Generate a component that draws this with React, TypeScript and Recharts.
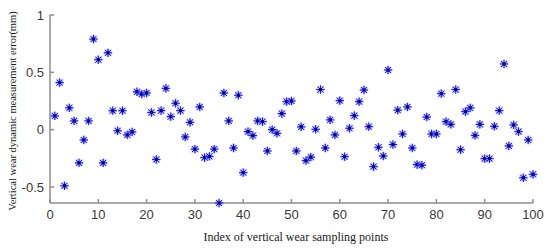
import { ScatterChart, Scatter, XAxis, YAxis } from 'recharts'

const sampleIndex = Array.from({ length: 100 }, (_, i) => i + 1)

const errorValues = [
  0.12, 0.41, -0.49, 0.19, 0.076, -0.29, -0.09, 0.076, 0.79, 0.61,
  -0.29, 0.67, 0.165, -0.01, 0.165, -0.046, -0.02, 0.33, 0.31, 0.32,
  0.15, -0.26, 0.166, 0.36, 0.113, 0.23, 0.166, -0.064, 0.064, -0.17,
  0.198, -0.244, -0.233, -0.17, -0.64, 0.32, 0.076, -0.16, 0.3, -0.375,
  -0.017, -0.052, 0.076, 0.07, -0.186, 0.0, -0.032, 0.14, 0.244, 0.25,
  -0.186, 0.024, -0.27, -0.24, 0.003, 0.35, -0.16, 0.085, -0.046, 0.253,
  -0.236, 0.012, 0.122, 0.244, 0.346, 0.026, -0.323, -0.154, -0.23, 0.52,
  -0.13, 0.17, -0.038, 0.198, -0.16, -0.305, -0.31, 0.11, -0.038, -0.038,
  0.314, 0.07, 0.046, 0.35, -0.175, 0.157, 0.19, -0.05, 0.046, -0.253,
  -0.253, 0.029, 0.166, 0.573, -0.142, 0.041, -0.017, -0.42, -0.09, -0.39,
]

const xTicks = [0, 10, 20, 30, 40, 50, 60, 70, 80, 90, 100]
const yTicks = [-0.5, 0, 0.5, 1]

const points = sampleIndex.map((idx, i) => ({ idx, err: errorValues[i] }))

const axisColor = '#8c8c8c'
const tickFont = { fontSize: 13, fill: '#3a3a3a', fontFamily: '"Liberation Sans", Arial, sans-serif' }
const serif = '"Liberation Serif", "Times New Roman", serif'

function Asterisk(props: any) {
  const { cx, cy } = props
  if (cx == null || cy == null) return null
  const r = 4.2
  const d = r * 0.72
  const path = `M${cx - r},${cy}L${cx + r},${cy}M${cx},${cy - r}L${cx},${cy + r}` +
    `M${cx - d},${cy - d}L${cx + d},${cy + d}M${cx - d},${cy + d}L${cx + d},${cy - d}`
  return (
    <g>
      <path d={path} stroke="#8c8cff" strokeWidth={2.2} strokeOpacity={0.55} fill="none" />
      <path d={path} stroke="#1010ff" strokeWidth={1} fill="none" />
      <rect x={cx - 1.5} y={cy - 1.5} width={3} height={3} fill="#000080" />
    </g>
  )
}

export default function App() {
  return (
    <div style={{ position: 'absolute', left: 0, top: 0, width: 550, height: 249, background: '#fff' }}>
      <ScatterChart width={550} height={249} margin={{ top: 15, right: 17, bottom: 0, left: 0 }}>
        <XAxis
          xAxisId="b"
          type="number"
          dataKey="idx"
          domain={[0, 100]}
          ticks={xTicks}
          height={46}
          stroke={axisColor}
          strokeWidth={1.5}
          tickSize={-4}
          tickMargin={11}
          tick={tickFont}
        />
        <XAxis
          xAxisId="t"
          orientation="top"
          type="number"
          dataKey="idx"
          domain={[0, 100]}
          ticks={xTicks}
          height={0}
          stroke={axisColor}
          strokeWidth={1.5}
          tickSize={-4}
          tick={false}
        />
        <YAxis
          yAxisId="l"
          type="number"
          dataKey="err"
          domain={[-0.64, 1]}
          ticks={yTicks}
          width={50}
          stroke={axisColor}
          strokeWidth={1.5}
          tickSize={-4}
          tickMargin={10}
          tick={tickFont}
        />
        <YAxis
          yAxisId="r"
          orientation="right"
          type="number"
          dataKey="err"
          domain={[-0.64, 1]}
          ticks={yTicks}
          width={0}
          stroke={axisColor}
          strokeWidth={1.5}
          tickSize={-4}
          tick={false}
        />
        <Scatter
          data={points}
          xAxisId="b"
          yAxisId="l"
          shape={<Asterisk />}
          isAnimationActive={false}
        />
        <text
          x={296}
          y={238}
          textAnchor="middle"
          dominantBaseline="middle"
          style={{ fontFamily: serif, fontSize: 12, fill: '#1a1a1a' }}
        >
          Index of vertical wear sampling points
        </text>
        <text
          x={14}
          y={111}
          textAnchor="middle"
          dominantBaseline="middle"
          transform="rotate(-90 14 111)"
          style={{ fontFamily: serif, fontSize: 10.5, fill: '#1a1a1a' }}
        >
          Vertical wear dynamic measurement error(mm)
        </text>
      </ScatterChart>
    </div>
  )
}
